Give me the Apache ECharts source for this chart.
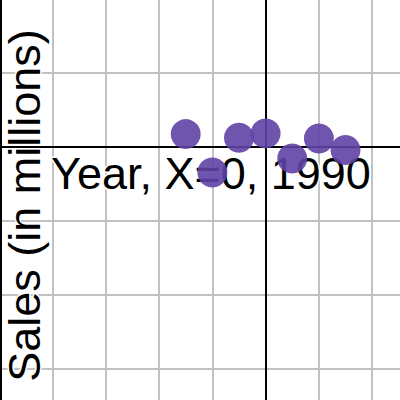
<!DOCTYPE html>
<html>
<head>
<meta charset="utf-8">
<script src="https://cdn.jsdelivr.net/npm/echarts@6/dist/echarts.min.js"></script>
<style>
html,body{margin:0;padding:0;background:#fff;}
#chart{width:400px;height:400px;}
</style>
</head>
<body>
<div id="chart"></div>
<script>
// Data (x = years since 1990, y = sales in millions)
const years = [-3, -2, -1, 0, 1, 2, 3];
const sales = [0.17, -0.35, 0.12, 0.18, -0.16, 0.11, -0.045];
const xLabel = 'Year, X=0, 1990';
const yLabel = 'Sales (in millions)';

const points = years.map((x, i) => [x, sales[i]]);

const chart = echarts.init(document.getElementById('chart'), null, {renderer: 'svg'});
chart.setOption({
  animation: false,
  backgroundColor: '#ffffff',
  grid: {left: -0.7, top: -1.3, width: 426.1, height: 444, containLabel: false, outerBoundsMode: 'none'},
  xAxis: {
    type: 'value', min: -10, max: 6, interval: 2,
    axisLine: {onZero: true, lineStyle: {color: '#000', width: 2}},
    axisTick: {show: false}, axisLabel: {show: false},
    splitLine: {show: true, lineStyle: {color: '#c2c2c2', width: 2}}
  },
  yAxis: {
    type: 'value', min: -4, max: 2, interval: 1,
    axisLine: {onZero: true, lineStyle: {color: '#000', width: 2}},
    axisTick: {show: false}, axisLabel: {show: false},
    splitLine: {show: true, lineStyle: {color: '#c2c2c2', width: 2}}
  },
  graphic: [
    {type: 'rect', left: 0, top: 0, z: 1, shape: {x: 0, y: 0, width: 2, height: 400}, style: {fill: '#000'}},
    {type: 'text', x: 51, y: 173, z: 1,
      style: {text: xLabel, font: '45px "Liberation Sans", Arial, sans-serif', fill: '#000',
        textAlign: 'left', textVerticalAlign: 'middle', stroke: '#fff', lineWidth: 3}},
    {type: 'text', x: 24, y: 205.5, rotation: Math.PI / 2, z: 1,
      style: {text: yLabel, font: '45px "Liberation Sans", Arial, sans-serif', fill: '#000',
        textAlign: 'center', textVerticalAlign: 'middle', stroke: '#fff', lineWidth: 3}}
  ],
  series: [{
    type: 'scatter', data: points, symbolSize: 30, z: 10,
    itemStyle: {color: '#6042a6', opacity: 0.9}
  }]
});
</script>
</body>
</html>
